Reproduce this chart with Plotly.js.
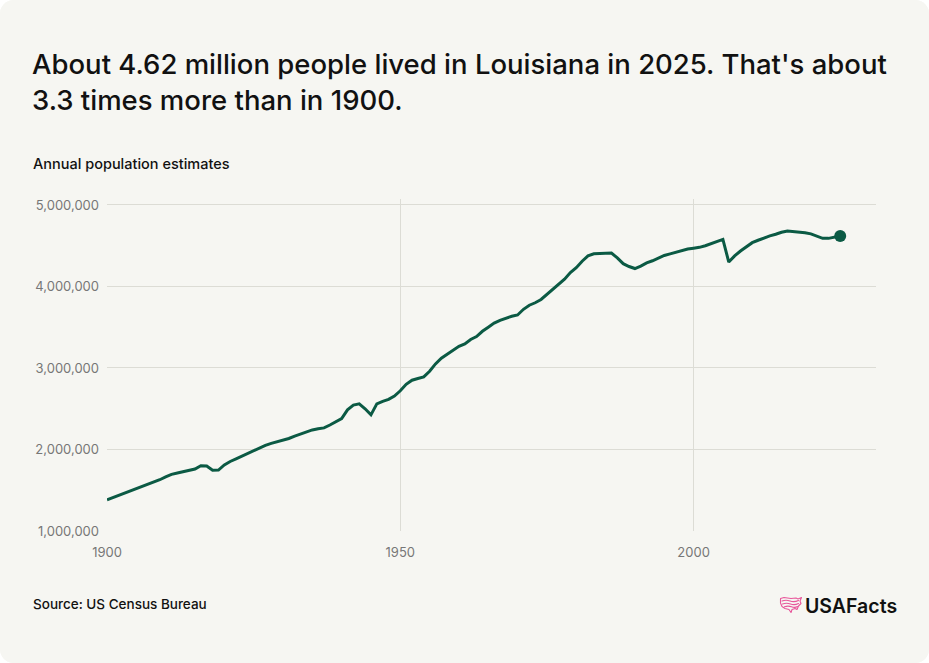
<!DOCTYPE html>
<html>
<head>
<meta charset="utf-8">
<script src="https://cdn.plot.ly/plotly-3.0.1.min.js"></script>
<style>
  html, body { margin: 0; padding: 0; background: #ffffff; }
  #card { width: 929px; height: 663px; background: #f6f6f2; border-radius: 14px; overflow: hidden; }
  #chart { width: 929px; height: 663px; }
</style>
</head>
<body>
<div id="card"><div id="chart"></div></div>
<script>
// Louisiana resident population, annual estimates (US Census Bureau)
const years = [];
for (let y = 1900; y <= 2025; y++) years.push(y);

const population = [
  1382000, 1409000, 1437000, 1464000, 1492000, 1519000, 1547000, 1574000, 1602000, 1629000, // 1900-1909
  1665000, 1695000, 1712000, 1728000, 1745000, 1760000, 1800000, 1797000, 1745000, 1748000, // 1910-1919
  1810000, 1853000, 1885000, 1920000, 1955000, 1990000, 2020000, 2050000, 2075000, 2095000, // 1920-1929
  2115000, 2135000, 2165000, 2190000, 2215000, 2240000, 2255000, 2265000, 2300000, 2345000, // 1930-1939
  2380000, 2487000, 2545000, 2560000, 2500000, 2425000, 2560000, 2590000, 2615000, 2655000, // 1940-1949
  2720000, 2800000, 2850000, 2870000, 2890000, 2960000, 3050000, 3120000, 3165000, 3220000, // 1950-1959
  3265000, 3295000, 3350000, 3385000, 3450000, 3500000, 3550000, 3585000, 3610000, 3635000, // 1960-1969
  3650000, 3720000, 3770000, 3800000, 3840000, 3900000, 3970000, 4030000, 4090000, 4170000, // 1970-1979
  4230000, 4310000, 4375000, 4400000, 4405000, 4408000, 4410000, 4350000, 4280000, 4245000, // 1980-1989
  4220000, 4250000, 4290000, 4315000, 4350000, 4380000, 4400000, 4420000, 4445000, 4460000, // 1990-1999
  4470000, 4480000, 4500000, 4525000, 4550000, 4578000, 4300000, 4375000, 4435000, 4490000, // 2000-2009
  4537000, 4567000, 4595000, 4620000, 4640000, 4665000, 4680000, 4675000, 4665000, 4660000, // 2010-2019
  4645000, 4620000, 4590000, 4590000, 4600000, 4618000                                       // 2020-2025
];

const xTickVals = [1900, 1950, 2000];
const xTickText = ['1900', '1950', '2000'];
const yTickVals = [1000000, 2000000, 3000000, 4000000, 5000000];
const yTickText = ['1,000,000', '2,000,000', '3,000,000', '4,000,000', '5,000,000'];

const titleText = "About 4.62 million people lived in Louisiana in 2025. That's about<br>3.3 times more than in 1900.";
const subtitleText = 'Annual population estimates';
const sourceText = 'Source: US Census Bureau';
const brandText = 'USAFacts';

const lineColor = '#0b5a44';
const gridColor = '#dcdcd5';
const FONT = 'Inter, "Noto Sans", sans-serif';

// plot area in pixels
const W = 929, H = 663;
const L = 107, R = 876, T = 199, B = 531;
const px = v => (v - L) / (R - L);
const py = v => (B - v) / (B - T);

const lastIdx = years.length - 1;

const traces = [
  {
    x: years, y: population, type: 'scatter', mode: 'lines',
    line: { color: lineColor, width: 3 },
    hoverinfo: 'skip', showlegend: false
  },
  {
    x: [years[lastIdx]], y: [population[lastIdx]], type: 'scatter', mode: 'markers',
    marker: { color: lineColor, size: 12 },
    hoverinfo: 'skip', showlegend: false
  }
];

// small flag-map mark beside the brand name
const flagSvg = '<svg xmlns="http://www.w3.org/2000/svg" width="24" height="18" viewBox="0 0 24 18">' +
  '<g fill="none" stroke="#e8579b" stroke-width="1.1" stroke-linejoin="round" stroke-linecap="round">' +
  '<path d="M1.5 2.5 L5 1.5 L12 2.5 L17 2 L19 3 L22.5 1.5 L21 5 L22 7.5 L19.5 10 L18 13.5 L16 12.5 L13 13.5 L12 16.5 L10 13.5 L6 12.5 L3 10.5 L1.5 7 Z"/>' +
  '<path d="M3 5 Q7 3.5 11 5 T19.5 4.5"/>' +
  '<path d="M3.5 8 Q7.5 6.5 11.5 8 T19.5 7.5"/>' +
  '<path d="M5.5 10.8 Q9 9.5 12.5 10.8 T18.5 10.5"/>' +
  '</g></svg>';
const flagUri = 'data:image/svg+xml;base64,' + btoa(flagSvg);

const layout = {
  width: W, height: H,
  paper_bgcolor: '#f6f6f2',
  plot_bgcolor: '#f6f6f2',
  margin: { l: L, r: W - R, t: T, b: H - B, pad: 0 },
  font: { family: FONT, color: '#111111' },
  title: {
    text: titleText,
    xref: 'container', yref: 'container',
    x: 32 / W, xanchor: 'left',
    y: 1 - 74 / H, yanchor: 'top',
    font: { family: FONT, size: 27.5, color: '#111111', weight: 500 }
  },
  xaxis: {
    range: [1900, 2031.1],
    tickvals: xTickVals, ticktext: xTickText,
    showgrid: true, gridcolor: gridColor, gridwidth: 1,
    zeroline: false, showline: false,
    ticks: '', ticklabelstandoff: 12,
    tickfont: { family: FONT, size: 13, color: '#777777' },
    fixedrange: true
  },
  yaxis: {
    range: [1000000, 5073000],
    tickvals: yTickVals, ticktext: yTickText,
    showgrid: true, gridcolor: gridColor, gridwidth: 1,
    zeroline: false, showline: false,
    ticks: '', ticklabelstandoff: 7,
    tickfont: { family: FONT, size: 13, color: '#777777' },
    fixedrange: true
  },
  annotations: [
    {
      text: subtitleText, xref: 'paper', yref: 'paper',
      x: px(31), y: py(153), xanchor: 'left', yanchor: 'top', showarrow: false,
      font: { family: FONT, size: 14.5, color: '#111111', weight: 500 }
    },
    {
      text: sourceText, xref: 'paper', yref: 'paper',
      x: px(31), y: py(594), xanchor: 'left', yanchor: 'top', showarrow: false,
      font: { family: FONT, size: 13.5, color: '#111111', weight: 500 }
    },
    {
      text: brandText, xref: 'paper', yref: 'paper',
      x: px(899), y: py(592), xanchor: 'right', yanchor: 'top', showarrow: false,
      font: { family: FONT, size: 19.5, color: '#111111', weight: 600 }
    }
  ],
  images: [
    {
      source: flagUri, xref: 'paper', yref: 'paper',
      x: px(779), y: py(596), sizex: 24 / (R - L), sizey: 18 / (B - T),
      xanchor: 'left', yanchor: 'top', sizing: 'stretch', layer: 'above'
    }
  ]
};

Plotly.newPlot('chart', traces, layout, { displayModeBar: false, staticPlot: true });
</script>
</body>
</html>
